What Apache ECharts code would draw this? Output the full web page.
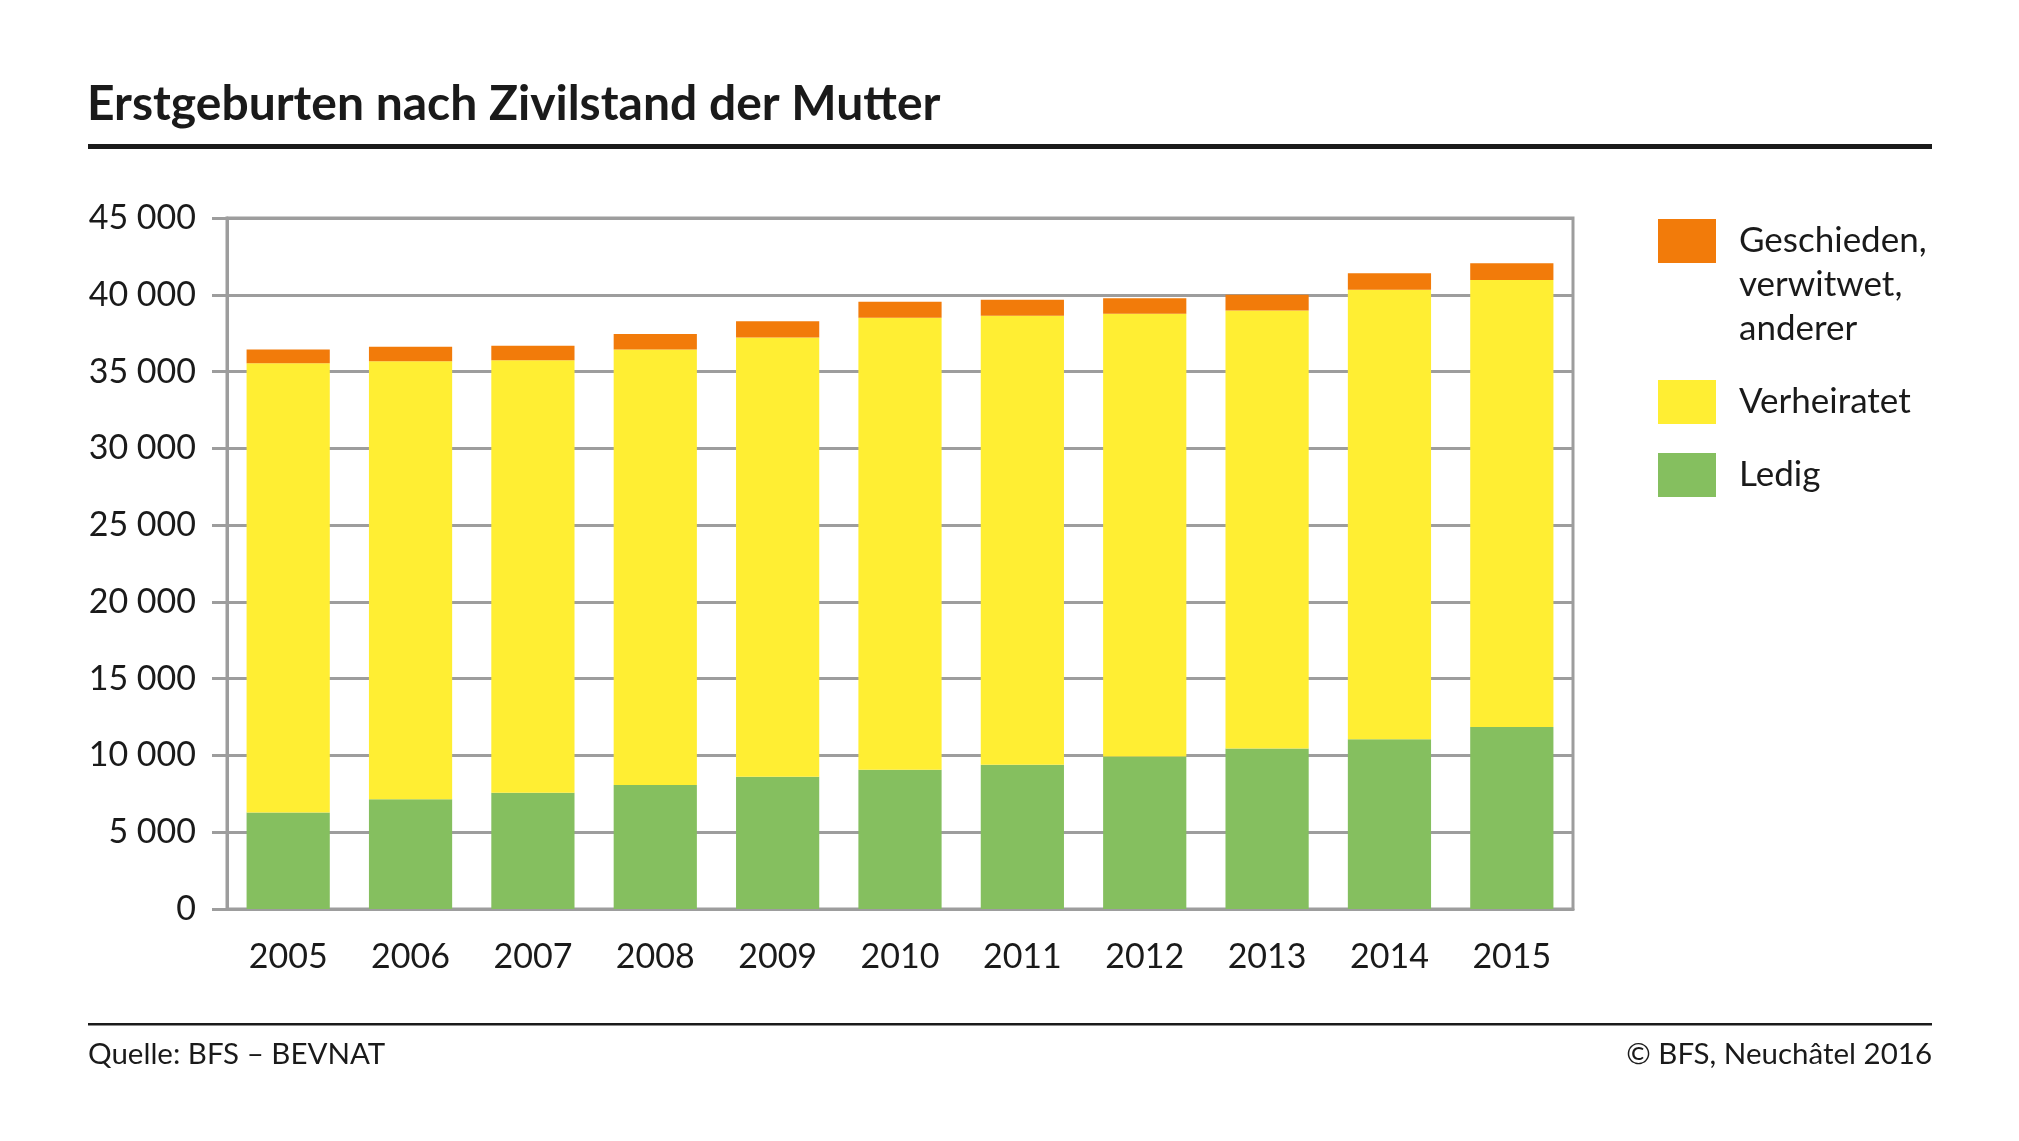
<!DOCTYPE html>
<html lang="de">
<head>
    <meta charset="UTF-8">
    <title>Erstgeburten nach Zivilstand der Mutter</title>
    <script src="https://cdn.jsdelivr.net/npm/echarts@6/dist/echarts.min.js"></script>
    <style>
        html, body { margin: 0; padding: 0; background: #fff; }
        #main { width: 2019px; height: 1141px; }
    </style>
</head>
<body>
<div id="main"></div>
<script>
    // Jahre (x-Achse)
    var jahre = ['2005', '2006', '2007', '2008', '2009', '2010', '2011', '2012', '2013', '2014', '2015'];
    // Erstgeburten nach Zivilstand
    var ledig = [6280, 7150, 7570, 8080, 8610, 9070, 9400, 9930, 10460, 11060, 11860];
    var verheiratet = [29260, 28520, 28160, 28360, 28610, 29440, 29240, 28840, 28510, 29260, 29110];
    var geschieden = [900, 950, 950, 1000, 1060, 1040, 1040, 1010, 1030, 1080, 1080];
    // Achsenbeschriftung
    var yMax = 45000;
    var yStep = 5000;

    var schrift = 'Lato, "Open Sans", "DejaVu Sans", sans-serif';
    var textFarbe = '#1a1a1a';
    var grau = '#9d9d9d';

    var myChart = echarts.init(document.getElementById('main'));

    var legendText = {
        fontFamily: schrift,
        fontSize: 35,
        color: textFarbe,
        lineHeight: 44,
        padding: [0, 0, 0, 18]
    };

    var option = {
        backgroundColor: '#fff',
        animation: false,
        title: {
            text: 'Erstgeburten nach Zivilstand der Mutter',
            left: 82,
            top: 76,
            textStyle: {
                fontFamily: schrift,
                fontSize: 48,
                fontWeight: 'bold',
                color: textFarbe
            }
        },
        legend: [
            {
                // zwei Leerzeilen davor, damit die erste Zeile auf Höhe des Kästchens steht
                data: ['Geschieden, verwitwet, anderer'],
                left: 1658,
                top: 131,
                padding: 0,
                icon: 'rect',
                itemWidth: 58,
                itemHeight: 44,
                formatter: function () { return '\n\nGeschieden,\nverwitwet,\nanderer'; },
                textStyle: legendText
            },
            {
                data: ['Verheiratet'],
                left: 1658,
                top: 380,
                padding: 0,
                icon: 'rect',
                itemWidth: 58,
                itemHeight: 44,
                textStyle: legendText
            },
            {
                data: ['Ledig'],
                left: 1658,
                top: 453,
                padding: 0,
                icon: 'rect',
                itemWidth: 58,
                itemHeight: 44,
                textStyle: legendText
            }
        ],
        grid: {
            left: 227,
            right: 446,
            top: 218,
            height: 691,
            show: true,
            borderColor: grau,
            borderWidth: 3,
            backgroundColor: 'transparent'
        },
        xAxis: {
            type: 'category',
            data: jahre,
            axisLine: { lineStyle: { color: grau, width: 3 } },
            axisTick: { show: false },
            axisLabel: {
                margin: 31,
                fontFamily: schrift,
                fontSize: 34,
                color: textFarbe
            }
        },
        yAxis: {
            type: 'value',
            min: 0,
            max: yMax,
            interval: yStep,
            axisLine: { show: true, lineStyle: { color: grau, width: 3 } },
            axisTick: { show: true, length: 15, lineStyle: { color: grau, width: 3 } },
            splitLine: { lineStyle: { color: grau, width: 3 } },
            axisLabel: {
                margin: 31,
                fontFamily: schrift,
                fontSize: 34,
                color: textFarbe,
                formatter: function (v) {
                    var s = String(v);
                    return s.length > 3 ? s.slice(0, -3) + ' ' + s.slice(-3) : s;
                }
            }
        },
        graphic: [
            {
                type: 'rect',
                shape: { x: 88, y: 144, width: 1844, height: 5 },
                style: { fill: textFarbe }
            },
            {
                type: 'rect',
                shape: { x: 88, y: 1023, width: 1844, height: 2.5 },
                style: { fill: textFarbe }
            },
            {
                type: 'text',
                left: 88,
                top: 1039,
                style: {
                    text: 'Quelle: BFS – BEVNAT',
                    fontFamily: schrift,
                    fontSize: 29.5,
                    fill: textFarbe
                }
            },
            {
                type: 'text',
                right: 87,
                top: 1039,
                style: {
                    text: '© BFS, Neuchâtel 2016',
                    fontFamily: schrift,
                    fontSize: 29.5,
                    fill: textFarbe
                }
            }
        ],
        series: [
            {
                name: 'Ledig',
                type: 'bar',
                stack: 'gesamt',
                barCategoryGap: '32%',
                itemStyle: { color: '#85bf5f' },
                data: ledig
            },
            {
                name: 'Verheiratet',
                type: 'bar',
                stack: 'gesamt',
                itemStyle: { color: '#ffee33' },
                data: verheiratet
            },
            {
                name: 'Geschieden, verwitwet, anderer',
                type: 'bar',
                stack: 'gesamt',
                itemStyle: { color: '#f27b0a' },
                data: geschieden
            }
        ]
    };

    myChart.setOption(option);
</script>
</body>
</html>
